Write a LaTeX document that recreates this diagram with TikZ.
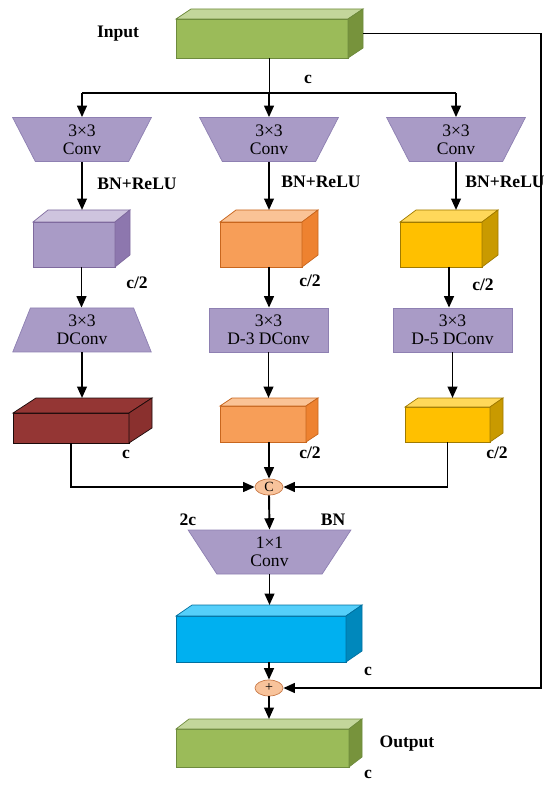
\documentclass[tikz,border=0pt]{standalone}
\usepackage{fontspec}
\setmainfont{Liberation Serif}
\usetikzlibrary{arrows.meta,shapes.geometric,calc}

\definecolor{greenF}{HTML}{9BBB59}
\definecolor{greenT}{HTML}{C3D69B}
\definecolor{greenS}{HTML}{77933C}
\definecolor{greenE}{HTML}{6E8B3D}
\definecolor{purpleF}{HTML}{A99BC6}
\definecolor{purpleT}{HTML}{CEC4DE}
\definecolor{purpleS}{HTML}{8D77AE}
\definecolor{purpleE}{HTML}{7F6A9E}
\definecolor{orangeF}{HTML}{F79E58}
\definecolor{orangeT}{HTML}{FAC396}
\definecolor{orangeS}{HTML}{EE8230}
\definecolor{orangeE}{HTML}{C8661E}
\definecolor{goldF}{HTML}{FFC000}
\definecolor{goldT}{HTML}{FFD85A}
\definecolor{goldS}{HTML}{C99A00}
\definecolor{goldE}{HTML}{A07A00}
\definecolor{brownF}{HTML}{943634}
\definecolor{brownT}{HTML}{943634}
\definecolor{brownS}{HTML}{8A302E}
\definecolor{brownE}{HTML}{1A0A0A}
\definecolor{blueF}{HTML}{00B0F0}
\definecolor{blueT}{HTML}{55CFFA}
\definecolor{blueS}{HTML}{0088BC}
\definecolor{blueE}{HTML}{0070A0}
\definecolor{convF}{HTML}{A99BC6}
\definecolor{convE}{HTML}{8E80B2}
\definecolor{circF}{HTML}{F8C39B}
\definecolor{circE}{HTML}{C97B49}

\tikzset{
	arr/.style={draw=black, line width=1.1pt, -{Triangle[length=6.5pt,width=5.5pt]}},
	wire/.style={draw=black, line width=1.1pt},
	lbl/.style={font=\bfseries},
	convbox/.style={trapezium, trapezium stretches=true, draw=convE, fill=convF, inner sep=0pt,
		minimum height=44*0.02cm, align=center, font=\fontsize{10}{10.5}\selectfont},
	rectbox/.style={rectangle, draw=convE, fill=convF, inner sep=0pt, minimum width=119*0.02cm,
		minimum height=44*0.02cm, align=center, font=\fontsize{10}{10.5}\selectfont},
	opcirc/.style={ellipse, draw=circE, fill=circF, inner sep=0pt, minimum width=28*0.02cm,
		minimum height=16*0.02cm, font=\fontsize{8}{8}\selectfont},
}

% name, x, y (front top left), width, height, depth x, depth y, colour set
\newcommand{\cuboid}[8]{%
	\node[draw=#8E, fill=#8F, inner sep=0pt, outer sep=0pt, minimum width=#4*0.02cm,
		minimum height=#5*0.02cm, anchor=north west] (#1) at (#2,#3) {};
	\draw[draw=#8E, fill=#8T] (#1.north west) -- ++(#6,-#7) -- ++(#4,0) -- (#1.north east) -- cycle;
	\draw[draw=#8E, fill=#8S] (#1.north east) -- ++(#6,-#7) -- ++(0,#5) -- (#1.south east) -- cycle;
	\coordinate (#1-t) at ($(#1.north west)+(#4/2+#6/2,-#7)$);
	\coordinate (#1-b) at ($(#1.south west)+(#4/2+#6/2,0)$);
	\coordinate (#1-r) at ($(#1.east)+(#6,-#7/2)$);
}

\begin{document}
\begin{tikzpicture}[x=0.02cm, y=-0.02cm]
	\useasboundingbox (0,0) rectangle (550,786);

	% cubes
	\cuboid{in}{176}{19}{172}{39}{15}{10}{green}
	\cuboid{p1}{33}{222}{82}{45}{15}{12}{purple}
	\cuboid{o1}{220}{222}{82}{45}{16}{12}{orange}
	\cuboid{y1}{400}{222}{82}{45}{16}{12}{gold}
	\cuboid{br}{13}{413}{116}{30}{23}{15}{brown}
	\cuboid{o2}{220}{406}{86}{36}{12}{8}{orange}
	\cuboid{y2}{405}{407}{85}{35}{13}{9}{gold}
	\cuboid{bl}{176}{616}{170}{46}{16}{11}{blue}
	\cuboid{out}{176}{729}{173}{38}{13}{10}{green}

	% convolutions
	\node[convbox, shape border rotate=180, trapezium left angle=73, trapezium right angle=73,
		minimum width=139*0.02cm] (conv1) at (82,139.5) {3×3\\Conv};
	\node[convbox, shape border rotate=180, trapezium left angle=73, trapezium right angle=73,
		minimum width=139*0.02cm] (conv2) at (269,139.5) {3×3\\Conv};
	\node[convbox, shape border rotate=180, trapezium left angle=73, trapezium right angle=73,
		minimum width=139*0.02cm] (conv3) at (456,139.5) {3×3\\Conv};
	\node[convbox, trapezium left angle=74, trapezium right angle=74,
		minimum width=139*0.02cm] (dconv1) at (82,330) {3×3\\DConv};
	\node[rectbox] (dconv2) at (268.5,330) {3×3\\D-3 DConv};
	\node[rectbox] (dconv3) at (452.5,330) {3×3\\D-5 DConv};
	\node[convbox, shape border rotate=180, trapezium left angle=71, trapezium right angle=71,
		minimum width=163*0.02cm] (conv4) at (269.5,552) {1×1\\Conv};

	% concat and sum
	\node[opcirc] (cat) at (269,487) {C};
	\node[opcirc] (add) at (269,688) {+};

	% connectors
	\coordinate (split) at ($(in-b)+(0,35)$);
	\draw[wire] (in-b) -- (split);
	\draw[wire] (conv1.north |- split) -- (conv3.north |- split);
	\foreach \c in {conv1,conv2,conv3}
		\draw[arr] (\c.north |- split) -- (\c.north);
	\draw[arr] (conv1.south) -- (conv1.south |- p1-t);
	\draw[arr] (conv2.south) -- (conv2.south |- o1-t);
	\draw[arr] (conv3.south) -- (conv3.south |- y1-t);
	\draw[arr] (p1-b) -- (p1-b |- dconv1.north);
	\draw[arr] (o1-b) -- (o1-b |- dconv2.north);
	\draw[arr] (y1-b) -- (y1-b |- dconv3.north);
	\draw[arr] (dconv1.south) -- (dconv1.south |- br-t);
	\draw[arr] (dconv2.south) -- (dconv2.south |- o2-t);
	\draw[arr] (dconv3.south) -- (dconv3.south |- y2-t);
	\draw[arr] (br.south) |- (cat.west);
	\draw[arr] (o2.south -| cat.north) -- (cat.north);
	\draw[arr] (y2.south) |- (cat.east);
	\draw[arr] (cat.south) -- (conv4.north);
	\draw[arr] (conv4.south) -- (conv4.south |- bl-t);
	\draw[arr] (bl.south -| add.north) -- (add.north);
	\draw[arr] (add.south) -- (add.south |- out-t);
	\coordinate (skip) at (541,0);
	\draw[arr] (in-r) -- (in-r -| skip) |- (add.east);

	% labels
	\node[lbl] (lin) at (118,34) {Input};
	\node[lbl] (lc0) at (308,79) {c};
	\node[lbl] (lbn1) at (137,184) {BN+ReLU};
	\node[lbl] (lbn2) at (321,182) {BN+ReLU};
	\node[lbl] (lbn3) at (505,182) {BN+ReLU};
	\node[lbl] (lh1) at (137,283) {c/2};
	\node[lbl] (lh2) at (310,281) {c/2};
	\node[lbl] (lh3) at (483,285) {c/2};
	\node[lbl] (lc1) at (126,454) {c};
	\node[lbl] (lh4) at (310,453) {c/2};
	\node[lbl] (lh5) at (497,453) {c/2};
	\node[lbl] (l2c) at (188,520) {2c};
	\node[lbl] (lbn4) at (333,520) {BN};
	\node[lbl] (lc2) at (368,671) {c};
	\node[lbl] (lout) at (407,744) {Output};
	\node[lbl] (lc3) at (368,774) {c};
\end{tikzpicture}
\end{document}
